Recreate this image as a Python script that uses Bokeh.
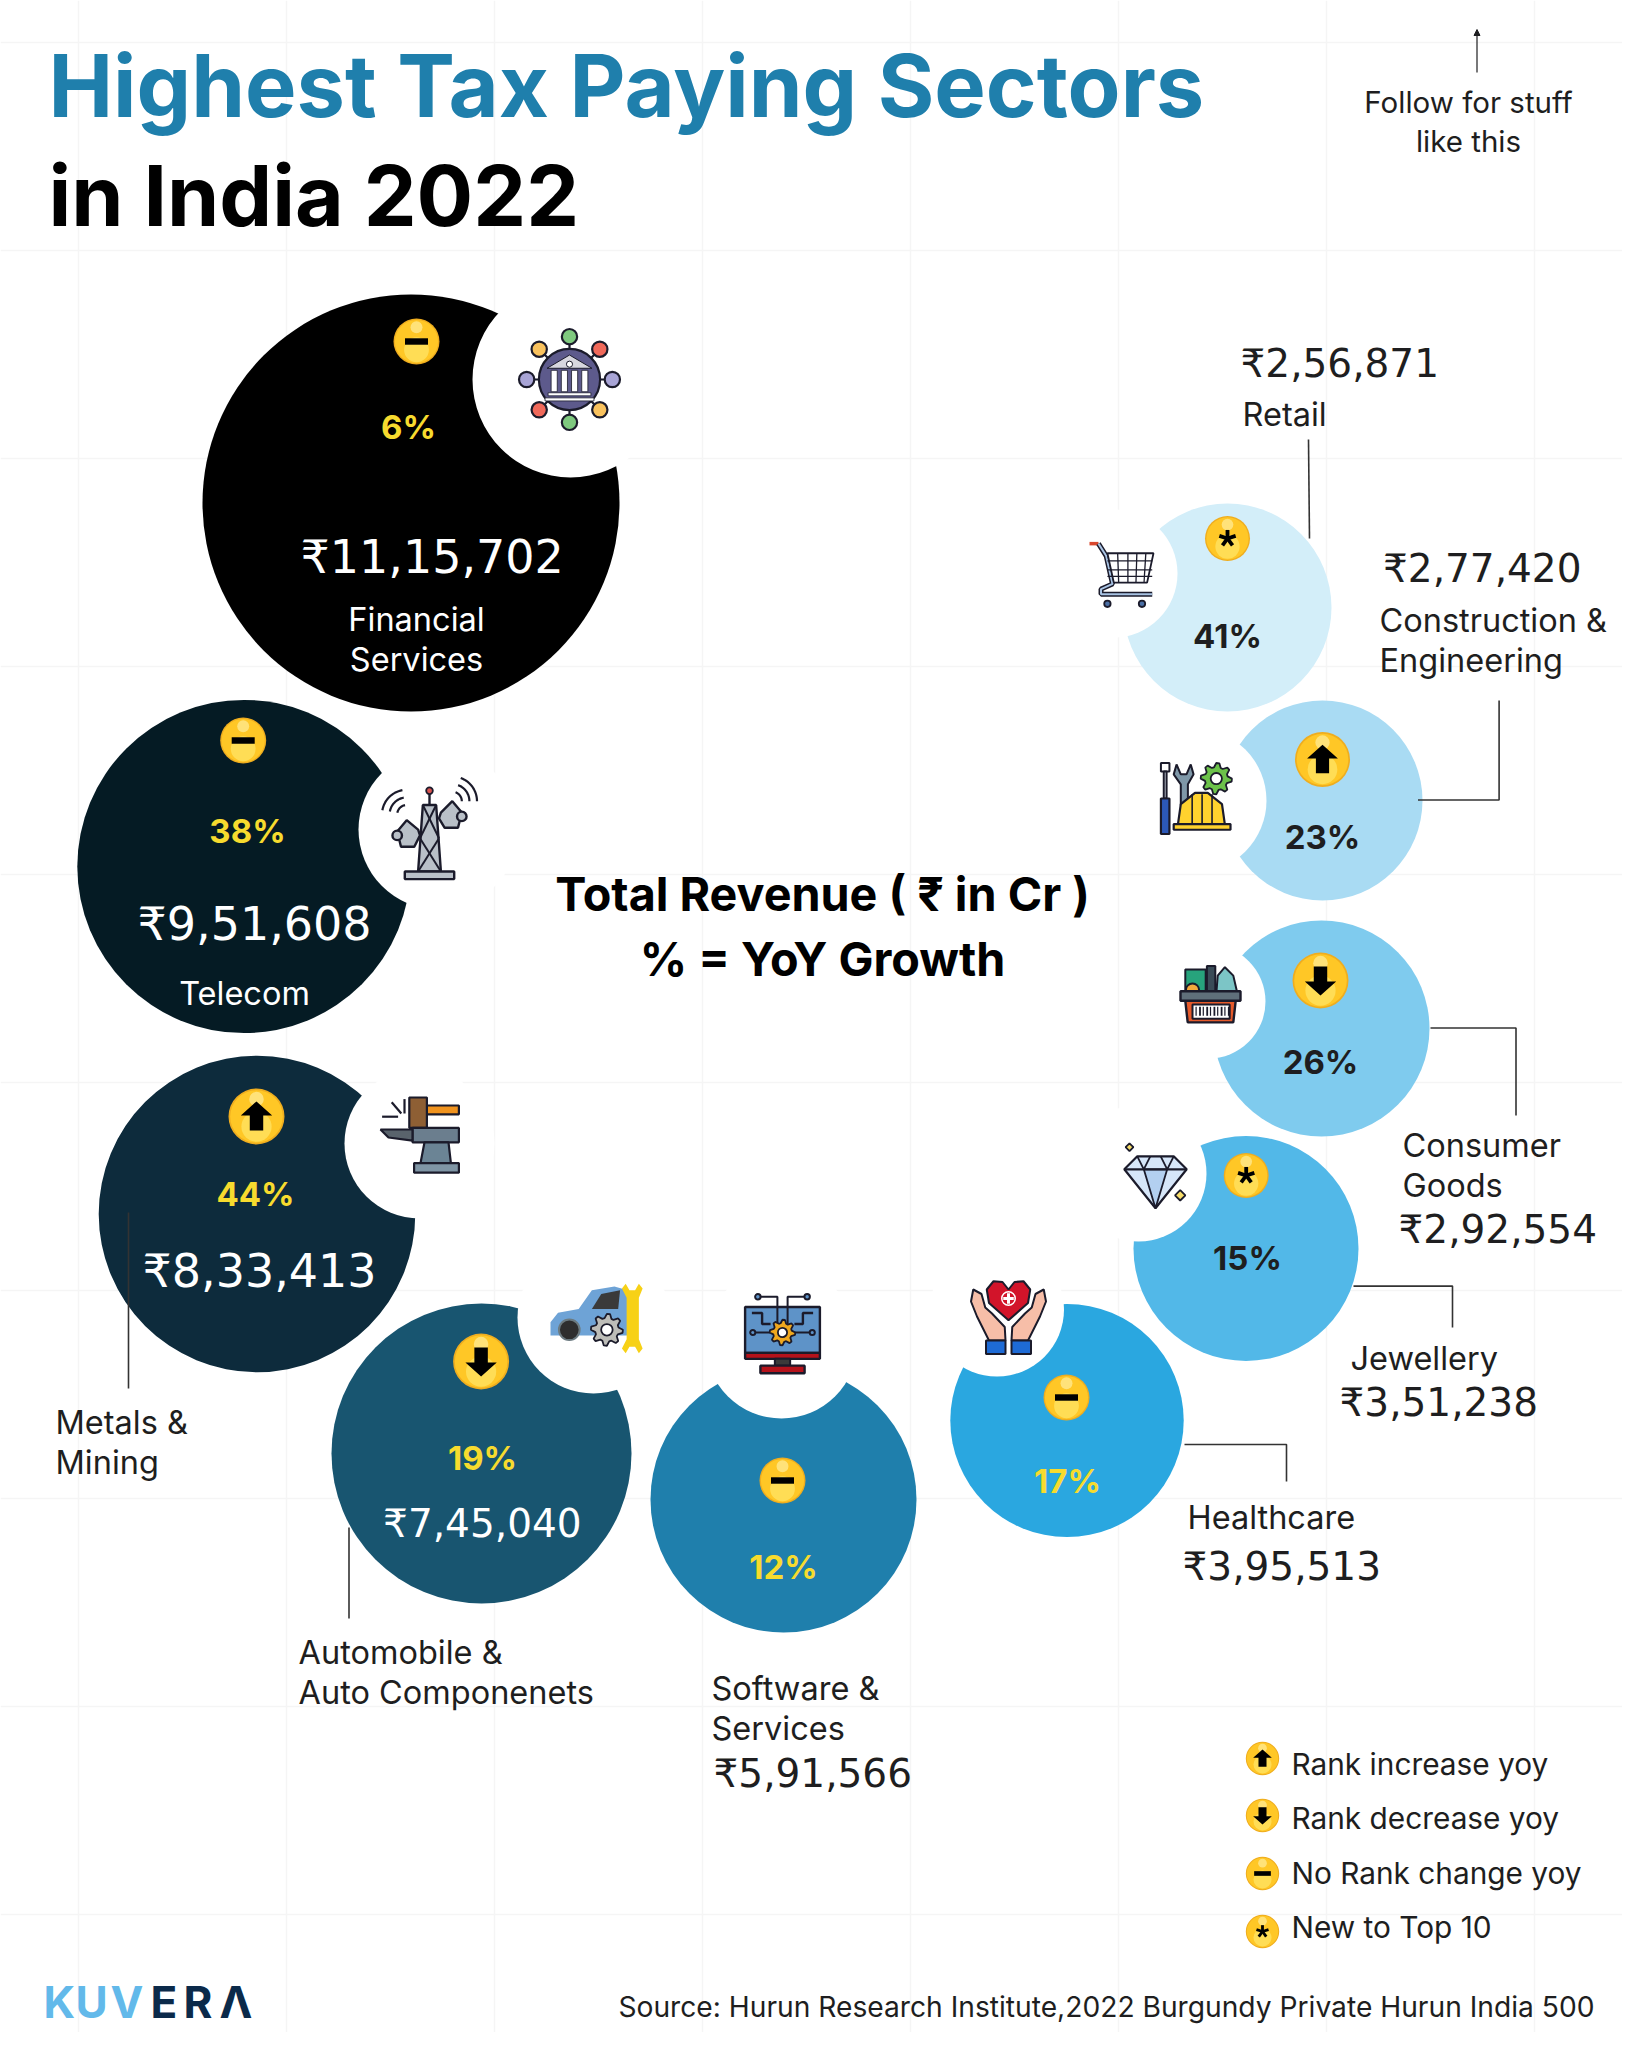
import numpy as np

from bokeh.core.properties import value
from bokeh.embed import file_html
from bokeh.models import Arrow, FixedTicker, NormalHead, Range1d
from bokeh.plotting import figure
from bokeh.resources import INLINE

# the chart's data
sectors = ["Financial Services", "Telecom", "Metals & Mining", "Automobile & Auto Componenets",
           "Software & Services", "Healthcare", "Jewellery", "Consumer Goods",
           "Construction & Engineering", "Retail"]
revenue = ["₹11,15,702", "₹9,51,608", "₹8,33,413", "₹7,45,040", "₹5,91,566",
           "₹3,95,513", "₹3,51,238", "₹2,92,554", "₹2,77,420", "₹2,56,871"]
growth = [6, 38, 44, 19, 12, 17, 15, 26, 23, 41]
rank_change = ["same", "same", "up", "down", "same", "same", "new", "down", "up", "new"]

# layout of the bubbles, all in page pixels
bubble_x = [410.5, 243.5, 256.5, 481, 783, 1066.5, 1245.5, 1321, 1322, 1227]
bubble_y = [502.5, 866, 1213.5, 1453, 1499, 1420, 1248, 1028, 800, 607]
bubble_r = [208.5, 166.7, 158.3, 150, 133, 116.7, 112.5, 108, 100, 104]
bubble_color = ["#000000", "#051B24", "#0D2B3C", "#185570", "#1F7FAC",
                "#2AA7E0", "#52B8E8", "#7FCBEE", "#A9DBF3", "#D3EEF9"]
notch_x = [570, 438, 419, 593, 781, 996.5, 1138, 1208, 1194, 1113]
notch_y = [379, 829, 1143, 1317, 1342, 1309, 1173, 1001, 800, 573]
notch_r = [98, 80, 75, 76, 76, 67, 68, 57, 72, 64]
badge_x = [416, 242.7, 256, 480.6, 782, 1066, 1245.7, 1320, 1322, 1227]
badge_y = [341, 740, 1116, 1361, 1480, 1397, 1175, 980, 759, 538]
badge_r = [23, 23, 28, 28, 23, 23, 22.5, 28, 27.5, 22.5]
pct_x = [408, 247, 255, 482, 783, 1067, 1247, 1320, 1322, 1227]
pct_y = [438, 842, 1205, 1469, 1578, 1492, 1269, 1073, 848, 647]
pct_color = ["#F7DB2E"] * 6 + ["#1E1E20"] * 4
value_x = [300, 137, 142, 382.6, 713, 1182, 1339, 1398, 1382.5, 1240]
value_y = [573, 940, 1287, 1537, 1787, 1580, 1415.5, 1243, 582, 376.6]
value_size = [46, 46, 46, 39, 39, 39, 39, 39, 39, 39]
value_color = ["#FFFFFF"] * 4 + ["#1E1E20"] * 6

name_lines = [["Financial", "Services"], ["Telecom"], ["Metals &", "Mining"],
              ["Automobile &", "Auto Componenets"], ["Software &", "Services"], ["Healthcare"],
              ["Jewellery"], ["Consumer", "Goods"], ["Construction &", "Engineering"], ["Retail"]]
name_x = [416, 244, 55, 298, 711, 1187, 1350, 1402, 1379, 1242]
name_y = [630, 1004, 1433, 1663, 1699, 1528, 1369, 1156, 631, 425]

leader_x = [[128, 128], [348.5, 348.5], [1184, 1286, 1286], [1353, 1452, 1452],
            [1430, 1515.5, 1515.5], [1417.5, 1498.6, 1498.6], [1308, 1309]]
leader_y = [[1212, 1388], [1527, 1618], [1444, 1444, 1481], [1285.6, 1285.6, 1327],
            [1027.5, 1027.5, 1115], [799.5, 799.5, 700], [439, 538]]

legend_kinds = ["up", "down", "same", "new"]
legend_labels = ["Rank increase yoy", "Rank decrease yoy", "No Rank change yoy", "New to Top 10"]
legend_badge_y = [1758, 1815, 1873, 1931]
legend_text_y = [1774, 1828, 1883, 1937]

grid_x = [78, 286, 494, 702, 910, 1118, 1326, 1534]
grid_y = [42, 250, 458, 666, 874, 1082, 1290, 1498, 1706, 1914]

FONT = "Inter"
VALUE_FONT = "DejaVu Sans"
INK = "#1B1B2B"
TEXT = "#1E1E20"
# alphabetic text lands this far (in em) under the anchor here, so it is taken back off
BASE_SHIFT = 0.35

p = figure(width=1622, height=2032, output_backend="svg", toolbar_location=None,
           x_range=Range1d(0, 1622), y_range=Range1d(2032, 0), min_border=0)
p.axis.visible = False
p.outline_line_color = None
p.xgrid.ticker = FixedTicker(ticks=grid_x)
p.ygrid.ticker = FixedTicker(ticks=grid_y)
p.xgrid.bounds = (5, 1951)
p.grid.grid_line_color = "#F5F5F5"
p.grid.grid_line_width = 1.5


def label(x, y, text, size, color=TEXT, style="normal", align="left", font=FONT):
    p.text([x], [y - BASE_SHIFT * size], text=[text], text_font=value(font), text_font_size=f"{size}px",
           text_color=color, text_font_style=style, text_align=align, text_baseline="alphabetic")


# helpers for the little icons: shapes are given in a +-50 box around (ox, oy)
ox, oy, k = 0, 0, 1


def at(x, y, size):
    global ox, oy, k
    ox, oy, k = x, y, size / 100


def pts(points):
    return [ox + k * a for a, b in points], [oy + k * b for a, b in points]


def poly(points, fill, line=INK, lw=1.8):
    xs, ys = pts(points)
    p.patch(xs, ys, fill_color=fill, line_color=line, line_width=lw)


def stroke(points, color=INK, lw=1.8):
    xs, ys = pts(points)
    p.line(xs, ys, line_color=color, line_width=lw)


def box(x0, y0, x1, y1, fill, line=INK, lw=1.8):
    poly([(x0, y0), (x1, y0), (x1, y1), (x0, y1)], fill, line, lw)


def disc(x, y, r, fill, line=INK, lw=1.8):
    p.circle([ox + k * x], [oy + k * y], radius=k * r, fill_color=fill, line_color=line, line_width=lw)


def curve(x, y, r, a0, a1, color=INK, lw=1.8):
    t = np.radians(np.linspace(a0, a1, 16))
    stroke(list(zip(x + r * np.cos(t), y + r * np.sin(t))), color, lw)


def gear(x, y, r, fill, teeth=8):
    t = np.linspace(0, 2 * np.pi, teeth * 4, endpoint=False)
    rr = np.array([r, r, r * 0.74, r * 0.74] * teeth)
    poly(list(zip(x + rr * np.cos(t), y + rr * np.sin(t))), fill)
    disc(x, y, r * 0.36, "#FFFFFF")


def bank_icon():
    at(569, 379, 102)
    colors = ["#F0695A", "#A8A4D6", "#F9C25E", "#7FC97F", "#F0695A", "#A8A4D6", "#F9C25E", "#7FC97F"]
    for i, c in enumerate(colors):
        t = np.radians(-45 + 45 * i)
        stroke([(0, 0), (42 * np.cos(t), 42 * np.sin(t))], lw=2.2)
        disc(42 * np.cos(t), 42 * np.sin(t), 7.5, c, lw=2.2)
    disc(0, 0, 30, "#5D5A8C", lw=2.2)
    poly([(0, -24), (22, -11), (-22, -11)], "#D7D7DF", lw=1)
    disc(0, -15, 3, "#FFFFFF", lw=1)
    for x in [-15, -5, 5, 15]:
        box(x - 3, -9, x + 3, 12, "#FFFFFF", lw=0.8)
    box(-21, 13, 21, 16, "#FFFFFF", lw=0.8)
    box(-24, 18, 24, 21, "#FFFFFF", lw=0.8)


def tower_icon():
    at(429, 833, 95)
    poly([(-7, -30), (7, -30), (12, 40), (-12, 40)], "#B9C0C8", lw=2.4)
    for a, b in [((-7, -30), (10, 5)), ((7, -30), (-10, 5)), ((-10, 5), (12, 40)), ((10, 5), (-12, 40))]:
        stroke([a, b], lw=2)
    box(-26, 40, 26, 48, "#B9C0C8", lw=2.4)
    stroke([(0, -30), (0, -44)], lw=2.4)
    disc(0, -45, 3.5, "#D9534F")
    poly([(-24, -14), (-12, -4), (-10, 2), (-16, 14), (-30, 14), (-34, -2)], "#B9C0C8", lw=2.4)
    disc(-34, 2, 5, "#B9C0C8", lw=2.4)
    poly([(24, -34), (12, -22), (10, -16), (16, -6), (30, -6), (34, -22)], "#B9C0C8", lw=2.4)
    disc(34, -18, 5, "#B9C0C8", lw=2.4)
    for r in [10, 18, 26]:
        curve(-24, -20, r, 190, 260, lw=2.2)
        curve(24, -34, r, -70, 0, lw=2.2)


def anvil_icon():
    at(420, 1137, 80)
    box(5, -40, 48, -29, "#F0931E", lw=2.2)
    box(-14, -50, 8, -12, "#8E5F34", lw=2.2)
    box(-10, -12, 48, 6, "#6B7E8E", lw=2.2)
    poly([(-50, -10), (-10, -10), (-10, 4), (-40, 0)], "#59636C", lw=2.2)
    poly([(5, 6), (35, 6), (38, 32), (0, 32)], "#6B8495", lw=2.2)
    box(-8, 32, 48, 44, "#7F95A5", lw=2.2)
    stroke([(-36, -44), (-24, -30)], lw=2.2)
    stroke([(-20, -48), (-20, -30)], lw=2.2)
    stroke([(-48, -26), (-28, -26)], lw=2.2)


def car_icon():
    at(597, 1318, 94)
    poly([(-50, 18), (-50, 4), (-42, -6), (-20, -10), (-6, -30), (18, -34), (32, -30), (32, 18)], "#6EA3D6", INK, 0)
    poly([(-6, -10), (4, -26), (24, -30), (22, -10)], "#3A3A3A", INK, 0)
    disc(-30, 12, 11, "#2E2E2E", "#6B7A80", 2)
    gear(10, 12, 17, "#BDBDB8")
    poly([(30, -37), (34, -30), (40, -30), (44, -37), (48, -32), (44, -22), (44, 22), (48, 32), (44, 37), (40, 30),
          (34, 30), (30, 37), (26, 32), (31, 22), (31, -22), (26, -32)], "#F7D116", INK, 0)


def software_icon():
    at(782, 1332, 85)
    box(-44, -30, 44, 24, "#5E93C8", lw=2.4)
    box(-44, 24, 44, 31, "#B5121B", lw=2.4)
    box(-9, 31, 9, 39, "#3A3A3A", lw=2)
    box(-26, 39, 26, 48, "#B5121B", lw=2.4)
    for s in [-1, 1]:
        stroke([(s * 6, -6), (s * 6, -42), (s * 26, -42)], lw=2)
        disc(s * 29, -42, 3.2, "#5E93C8", lw=2)
        stroke([(s * 14, -10), (s * 24, -10), (s * 24, -23), (s * 36, -23)], lw=2.4)
        stroke([(s * 14, 0), (s * 32, 0)], lw=2)
        disc(s * 35, 0, 3, "#5E93C8", lw=2)
    gear(0, 0, 15, "#F0A81E", 8)


def health_icon():
    at(1008, 1316, 75)
    for s in [-1, 1]:
        poly([(s * 4, 32), (s * 5, 14), (s * 22, -4), (s * 31, -12), (s * 36, -30), (s * 47, -36), (s * 50, -20),
              (s * 42, 0), (s * 26, 32)], "#F7BEA8", lw=2)
        box(s * 4, 32, s * 30, 50, "#1E6BD6", lw=2)
    poly([(0, 5), (-26, -18), (-29, -36), (-20, -47), (-8, -46), (0, -36), (8, -46), (20, -47), (29, -36), (26, -18)],
         "#D2142A", lw=2)
    disc(0, -24, 9, "#D2142A", "#FFFFFF", 1.5)
    box(-2, -31, 2, -17, "#FFFFFF", lw=0)
    box(-7, -26, 7, -22, "#FFFFFF", lw=0)


def jewel_icon():
    at(1155, 1176.6, 65)
    poly([(-28, -32), (28, -32), (48, -12), (0, 48), (-48, -12)], "#D6E6F9", lw=2.2)
    poly([(-18, -12), (18, -12), (0, 48)], "#B3D0F0", INK, 1.8)
    stroke([(-48, -12), (48, -12)], lw=2.2)
    stroke([(-28, -32), (-18, -12), (-8, -32)], lw=1.8)
    stroke([(28, -32), (18, -12), (8, -32)], lw=1.8)
    for x, y, r in [(-40, -46, 6), (38, 28, 8)]:
        poly([(x, y - r), (x + r, y), (x, y + r), (x - r, y)], "#F7DD6A", lw=1.8)


def basket_icon():
    at(1210, 995.5, 60)
    box(-42, -44, -8, -8, "#27A37C", lw=2)
    disc(-30, -10, 11, "#F4A93C", lw=2)
    box(-6, -50, 8, -6, "#3A4B57", lw=2)
    poly([(10, -8), (12, -34), (24, -48), (38, -34), (44, -8)], "#7CC5C6", lw=2)
    poly([(-42, 8), (42, 8), (38, 44), (-38, 44)], "#E65A2B", lw=2.4)
    box(-50, -8, 50, 8, "#5F6F7A", lw=2.4)
    box(-30, 14, 32, 38, "#FFFFFF", lw=2)
    for i, x in enumerate(range(-25, 30, 6)):
        box(x, 18, x + 2 + i % 2, 33, INK, lw=0)


def tools_icon():
    at(1194.5, 798, 71)
    box(-48, -50, -36, -38, "#FFFFFF", lw=2)
    box(-44, -38, -40, 0, "#C8CFD8", lw=2)
    box(-48, 0, -36, 50, "#2C58B8", lw=2.2)
    poly([(-26, -48), (-20, -34), (-12, -34), (-6, -48), (-2, -34), (-10, -20), (-10, 10), (-20, 10), (-20, -20),
          (-30, -34)], "#7E97A8", lw=2)
    gear(30, -28, 22, "#6CC24A", 8)
    poly([(-24, 36), (-20, 8), (0, -8), (18, -8), (38, 8), (42, 36)], "#FFD22E", lw=2.2)
    box(-30, 36, 50, 44, "#FFD22E", lw=2.2)
    for x in [-4, 10, 24]:
        stroke([(x, -6), (x, 36)], lw=1.6)


def cart_icon():
    at(1121, 574.5, 64)
    stroke([(-50, -49), (-36, -49)], "#D9482E", 3.5)
    stroke([(-36, -49), (-24, -30), (-14, 14), (-32, 22), (-32, 30), (48, 30)], INK, 5)
    stroke([(-36, -49), (-24, -30), (-14, 14), (-32, 22), (-32, 30), (48, 30)], "#A9C4E4", 2)
    poly([(-22, -34), (50, -34), (40, 12), (-12, 12)], "#FFFFFF", lw=1.8)
    for x in [-6, 10, 24, 38]:
        stroke([(x, -34), (x * 0.9 + 1, 12)], lw=1.3)
    for y in [-22, -8, 2]:
        stroke([(-22, y), (48, y)], lw=1.3)
    disc(-22, 45, 5, "#4A6FA5", lw=1.8)
    disc(32, 45, 5, "#4A6FA5", lw=1.8)


def badge(x, y, r, kind):
    # no radial gradient on glyphs, so the button shine is stacked from flat circles
    p.circle([x], [y], radius=r, fill_color="#EFAD1F", line_color=None)
    p.circle([x], [y], radius=r * 0.94, fill_color="#FFC726", line_color=None)
    p.circle([x], [y + r * 0.36], radius=r * 0.54, fill_color="#FFE15E", fill_alpha=0.85, line_color=None)
    p.circle([x], [y - r * 0.62], radius=r * 0.26, fill_color="#FFE98F", fill_alpha=0.8, line_color=None)
    at(x, y, r * 2)
    if kind in ("up", "down"):
        s = 1 if kind == "down" else -1
        poly([(-12, -25 * s), (12, -25 * s), (12, 2 * s), (28, 2 * s), (0, 27 * s), (-28, 2 * s), (-12, 2 * s)],
             "#000000", None, 0)
    elif kind == "same":
        box(-25, -7, 25, 7, "#000000", None, 0)
    else:
        for a in [-90, -18, 54, 126, 198]:
            t = np.radians(a)
            stroke([(0, 0), (19 * np.cos(t), 19 * np.sin(t))], "#000000", r * 0.17)


# title block
label(48, 115, "Highest Tax Paying Sectors", 86.5, "#1F7FAC", "bold")
label(48, 224, "in India 2022", 84, "#000000", "bold")
label(1468, 112, "Follow for stuff", 29.5, align="center")
label(1468, 151, "like this", 29.5, align="center")
p.add_layout(Arrow(end=NormalHead(size=6, fill_color=TEXT, line_color=TEXT), x_start=1476.5, y_start=72,
                   x_end=1476.5, y_end=29, line_color=TEXT, line_width=1.2))

# bubbles with the white bite for the icon
p.circle(bubble_x, bubble_y, radius=bubble_r, fill_color=bubble_color, line_color=None)
p.circle(notch_x, notch_y, radius=notch_r, fill_color="#FFFFFF", line_color=None)
p.multi_line(leader_x, leader_y, line_color="#333333", line_width=1.6)

for draw in [bank_icon, tower_icon, anvil_icon, car_icon, software_icon, health_icon, jewel_icon, basket_icon,
             tools_icon, cart_icon]:
    draw()

for i in range(len(sectors)):
    badge(badge_x[i], badge_y[i], badge_r[i], rank_change[i])
    label(pct_x[i], pct_y[i], f"{growth[i]}%", 33, pct_color[i], "bold", "center")
    label(value_x[i], value_y[i], revenue[i], value_size[i], value_color[i], font=VALUE_FONT)
    inside = i < 2
    for j, line in enumerate(name_lines[i]):
        label(name_x[i], name_y[i] + 40 * j, line, 32.5, "#FFFFFF" if inside else TEXT,
              align="center" if inside else "left")

# middle note
label(822, 910, "Total Revenue ( ₹ in Cr )", 46.7, "#000000", "bold", "center")
label(822, 975, "% = YoY Growth", 46.7, "#000000", "bold", "center")

# legend
for kind, text, by, ty in zip(legend_kinds, legend_labels, legend_badge_y, legend_text_y):
    badge(1262, by, 16.7, kind)
    label(1291, ty, text, 29.8)

# footer
for letter, x, c in zip("KUVERΛ", [43, 75, 110, 150, 183, 219],
                        ["#62B9EA"] * 3 + ["#0B2A4A"] * 3):
    label(x, 2017, letter, 44, c, "bold")
label(1594, 2016, "Source: Hurun Research Institute,2022 Burgundy Private Hurun India 500", 28.2, align="right")

open("out.html", "w").write(file_html(p, INLINE))
